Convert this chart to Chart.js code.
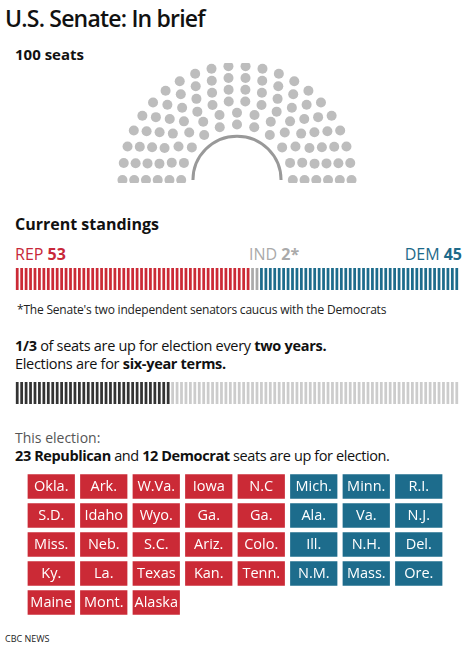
<!DOCTYPE html>
<html><head><meta charset="utf-8">
<script src="https://cdn.jsdelivr.net/npm/chart.js@4.4.0/dist/chart.umd.min.js"></script>
<style>
body{margin:0;width:474px;height:649px;position:relative;background:#fff;font-family:"Open Sans","Noto Sans",sans-serif;color:#111;overflow:hidden}
.t{position:absolute;white-space:nowrap}
canvas{position:absolute}
b{font-weight:700}
</style></head><body>
<div class="t" style="left:5px;top:2px;font-size:23px;font-weight:600;letter-spacing:-0.8px">U.S. Senate: In brief</div>
<div class="t" style="left:15px;top:44px;font-size:15px;font-weight:700">100 seats</div>
<div class="t" style="left:15px;top:213px;font-size:16px;font-weight:700">Current standings</div>
<div class="t" style="left:15px;top:243px;font-size:16px;color:#c8283a">REP <b>53</b></div>
<div class="t" style="left:249px;top:243px;font-size:16px;color:#aaa">IND <b>2*</b></div>
<div class="t" style="right:12px;top:243px;font-size:16px;color:#1d6a8a">DEM <b>45</b></div>
<div class="t" style="left:17px;top:301px;font-size:12px;color:#222;letter-spacing:-0.2px">*The Senate's two independent senators caucus with the Democrats</div>
<div class="t" style="left:15px;top:336px;font-size:14.5px;letter-spacing:-0.3px"><b>1/3</b> of seats are up for election every <b>two years.</b></div>
<div class="t" style="left:15px;top:354px;font-size:14.5px;letter-spacing:-0.3px">Elections are for <b>six-year terms.</b></div>
<div class="t" style="left:15px;top:428px;font-size:14px;color:#555">This election:</div>
<div class="t" style="left:15px;top:446px;font-size:14.5px;letter-spacing:-0.4px"><b>23 Republican</b> and <b>12 Democrat</b> seats are up for election.</div>
<div class="t" style="left:5px;top:632px;font-size:9px;color:#222">CBC NEWS</div>
<canvas id="hemi" style="left:0;top:58px" width="474" height="130"></canvas>
<canvas id="bar1" style="left:10px;top:265px" width="454" height="28"></canvas>
<canvas id="bar2" style="left:10px;top:379px" width="454" height="28"></canvas>
<canvas id="grid" style="left:20px;top:472px" width="430" height="145"></canvas>
<script>
// ---- data ----
const rowSeats = [11, 13, 16, 18, 20, 22];        // seats per arc, inner to outer
const rowRadius = [57, 69, 81, 93, 105, 117];      // arc radii
const partyLabels = ['REP', 'IND', 'DEM'];
const partySeats = [53, 2, 45];
const termLabels = ['Up this election', 'Not up'];
const termSeats = [35, 65];
const repStates = ['Okla.','Ark.','W.Va.','Iowa','N.C','S.D.','Idaho','Wyo.','Ga.','Ga.','Miss.','Neb.','S.C.','Ariz.','Colo.','Ky.','La.','Texas','Kan.','Tenn.','Maine','Mont.','Alaska'];
const demStates = ['Mich.','Minn.','R.I.','Ala.','Va.','N.J.','Ill.','N.H.','Del.','N.M.','Mass.','Ore.'];

const RED='#cb2a36', BLUE='#1d6c8c', IGRAY='#aaaaaa';
Chart.defaults.animation=false;
Chart.defaults.responsive=false;
Chart.defaults.plugins.legend.display=false;
Chart.defaults.plugins.tooltip.enabled=false;

// hemicycle
const pts=[];
rowSeats.forEach((n,i)=>{const r=rowRadius[i];for(let k=0;k<n;k++){const a=Math.PI*k/(n-1);pts.push({x:-r*Math.cos(a),y:r*Math.sin(a)});}});
const arcPlugin={id:'arc',beforeDatasetsDraw(c){const x=c.scales.x,y=c.scales.y,ctx=c.ctx;const cx=x.getPixelForValue(0),cy=y.getPixelForValue(0);const rx=x.getPixelForValue(45)-cx,ry=cy-y.getPixelForValue(45);ctx.save();ctx.strokeStyle='#999';ctx.lineWidth=3;ctx.beginPath();ctx.ellipse(cx,cy,rx,ry,0,Math.PI,0);ctx.stroke();ctx.restore();}};
new Chart(document.getElementById('hemi'),{type:'scatter',data:{datasets:[{data:pts,pointRadius:5,pointBackgroundColor:'#bdbdbd',pointBorderWidth:0}]},
options:{layout:{padding:0},scales:{x:{display:false,min:-237,max:237},y:{display:false,min:-3,max:120}}},plugins:[arcPlugin]});

function stripeChart(id,counts,colors){
  const vals=[],cols=[],labs=[];
  counts.forEach((n,i)=>{for(let k=0;k<n;k++){vals.push(1);cols.push(colors[i]);labs.push('');}});
  new Chart(document.getElementById(id),{type:'bar',data:{labels:labs,datasets:[{data:vals,backgroundColor:cols,barPercentage:0.62,categoryPercentage:1}]},
  options:{layout:{padding:{left:5,right:5,top:3,bottom:3}},scales:{x:{display:false},y:{display:false,min:0,max:1}}}});
}
stripeChart('bar1',partySeats,[RED,IGRAY,BLUE]);
stripeChart('bar2',termSeats,['#333333','#cccccc']);

// state grid: rows of 8 columns (5 Rep + 3 Dem)
const cols=['c0','c1','c2','c3','c4','c5','c6','c7'];
const cells=[];
repStates.forEach((s,i)=>cells.push({s,col:i%5,row:Math.floor(i/5),c:RED}));
demStates.forEach((s,i)=>cells.push({s,col:5+i%3,row:Math.floor(i/3),c:BLUE}));
const nRows=5;
const ds=[];
for(let r=0;r<nRows;r++){
  const rc=cells.filter(c=>c.row===r);
  ds.push({data:cols.map((_,ci)=>{const f=rc.find(c=>c.col===ci);return f?[r-0.42,r+0.42]:null;}),
    backgroundColor:cols.map((_,ci)=>{const f=rc.find(c=>c.col===ci);return f?f.c:'transparent';}),
    names:cols.map((_,ci)=>{const f=rc.find(c=>c.col===ci);return f?f.s:'';}),
    barPercentage:0.9,categoryPercentage:1,grouped:false});
}
const labelPlugin={id:'lbl',afterDatasetsDraw(c){const ctx=c.ctx;ctx.save();ctx.fillStyle='#fff';ctx.font='14.5px "Open Sans","Noto Sans",sans-serif';ctx.textAlign='center';ctx.textBaseline='middle';
c.data.datasets.forEach((d,di)=>{c.getDatasetMeta(di).data.forEach((el,i)=>{if(d.names[i]){const y=(el.y+el.base)/2;ctx.fillText(d.names[i],el.x,y+0.5);}});});ctx.restore();}};
new Chart(document.getElementById('grid'),{type:'bar',data:{labels:cols,datasets:ds},
options:{layout:{padding:{left:5,right:5,top:0,bottom:0}},scales:{x:{display:false},y:{display:false,reverse:true,min:-0.5,max:4.5}}},plugins:[labelPlugin]});
</script>
</body></html>
